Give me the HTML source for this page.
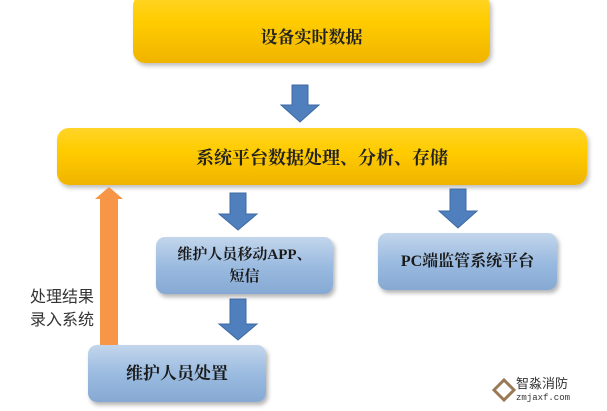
<!DOCTYPE html>
<html><head><meta charset="utf-8"><style>
body{margin:0;width:607px;height:411px;background:#fff;position:relative;overflow:hidden;font-family:"Liberation Serif","Noto Serif CJK SC",serif;}
.y{position:absolute;border-radius:12px;background:linear-gradient(#ffd428,#ffcc00 40%,#f0b400);box-shadow:2px 3px 4px rgba(0,0,0,.25);display:flex;align-items:center;justify-content:center;font-weight:bold;font-size:17px;color:#222;}
.b{position:absolute;border-radius:9px;background:linear-gradient(#c3d6ec,#9bbbe0 50%,#86a9d3);box-shadow:2px 3px 4px rgba(0,0,0,.3);display:flex;align-items:center;justify-content:center;text-align:center;font-weight:bold;font-size:15px;color:#1a1a1a;line-height:22px;}
.t{position:absolute;font-family:"Liberation Sans","Noto Sans CJK SC",sans-serif;font-size:16px;color:#333;line-height:23px;}
</style></head><body>
<div class="y" style="left:133px;top:-6px;width:357px;height:69px;padding-top:14px;box-sizing:border-box">设备实时数据</div>
<div class="y" style="left:57px;top:128px;width:530px;height:57px;font-size:18px">系统平台数据处理、分析、存储</div>
<div class="b" style="left:156px;top:237px;width:177px;height:57px">维护人员移动APP、<br>短信</div>
<div class="b" style="left:378px;top:233px;width:179px;height:57px;font-size:16px">PC端监管系统平台</div>
<div class="b" style="left:88px;top:345px;width:178px;height:57px;font-size:17px">维护人员处置</div>
<svg width="607" height="411" style="position:absolute;left:0;top:0">
<g fill="#4f7fbd" stroke="#3d6aa3" stroke-width="1">
<path d="M292 85h16v20h11l-19 17-19-17h11z"/>
<path d="M230 193h16v21h11l-19 16-19-16h11z"/>
<path d="M450 189h16v22h11l-19 17-19-17h11z"/>
<path d="M230 299h16v25h11l-19 16-19-16h11z"/>
</g>
<path d="M100 345V199h-5l14-12 14 12h-5v146z" fill="#f79646"/>
<path d="M494 390l10-10 10 10-10 10z" fill="none" stroke="#9a7a55" stroke-width="3"/>
<text x="516" y="388" font-family="Noto Sans CJK SC,sans-serif" font-size="13" fill="#333">智淼消防</text>
<text x="516" y="400" font-family="Liberation Mono,monospace" font-size="9" fill="#333">zmjaxf.com</text>
</svg>
<div class="t" style="left:30px;top:286px">处理结果<br>录入系统</div>
</body></html>
